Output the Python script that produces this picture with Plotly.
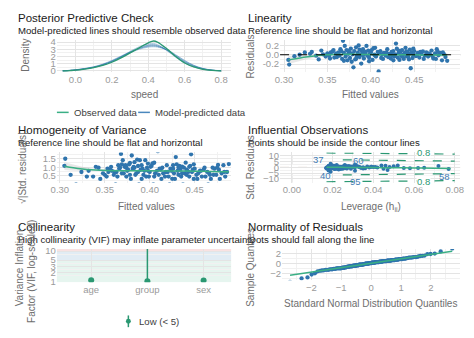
import numpy as np
import plotly.graph_objects as go
from statistics import NormalDist

FONT = "Liberation Sans, Arial, sans-serif"
GREEN = "#3aaf85"
GREEN_DARK = "#2a9872"
BLUE = "#1b6ca8"
RED = "#cd201f"
POINT = "#2f74ad"
TICK = "#9a9a9a"
AXT = "#6e6e6e"
GRID = "#e4e4e4"
MINOR = "#f1f1f1"

W, H = 474, 338

# ---------------- posterior predictive check ----------------
speed_grid = [-0.07, -0.03, 0.0, 0.05, 0.1, 0.15, 0.2, 0.25, 0.3, 0.35,
              0.4, 0.43, 0.45, 0.5, 0.55, 0.6, 0.65, 0.7, 0.75, 0.8]
observed_density = [0.0, 0.05, 0.1, 0.25, 0.45, 0.75, 1.2, 1.8, 2.5, 3.2,
                    3.9, 4.15, 4.0, 3.1, 2.0, 1.1, 0.55, 0.22, 0.07, 0.01]
predicted_density_1 = [0.02, 0.08, 0.15, 0.32, 0.55, 0.9, 1.4, 2.0, 2.6, 3.1,
                       3.45, 3.5, 3.4, 2.9, 2.1, 1.3, 0.7, 0.3, 0.1, 0.02]
predicted_density_2 = [0.01, 0.06, 0.12, 0.28, 0.5, 0.85, 1.3, 1.9, 2.6, 3.2,
                       3.6, 3.65, 3.55, 2.9, 2.0, 1.2, 0.62, 0.27, 0.09, 0.02]
predicted_density_3 = [0.02, 0.07, 0.14, 0.3, 0.52, 0.88, 1.35, 1.95, 2.5, 3.0,
                       3.3, 3.35, 3.3, 2.95, 2.2, 1.4, 0.75, 0.33, 0.11, 0.03]
predicted_density_4 = [0.01, 0.05, 0.1, 0.25, 0.48, 0.8, 1.3, 1.95, 2.7, 3.35,
                       3.75, 3.8, 3.65, 2.85, 1.9, 1.1, 0.55, 0.23, 0.07, 0.01]
predicted_density_5 = [0.02, 0.08, 0.16, 0.34, 0.58, 0.95, 1.45, 2.05, 2.65, 3.1,
                       3.4, 3.45, 3.4, 3.0, 2.25, 1.45, 0.78, 0.35, 0.12, 0.03]
predicted_density_6 = [0.01, 0.06, 0.13, 0.29, 0.5, 0.83, 1.28, 1.9, 2.55, 3.15,
                       3.55, 3.6, 3.5, 2.95, 2.1, 1.25, 0.65, 0.28, 0.09, 0.02]
predicted_densities = [predicted_density_1, predicted_density_2, predicted_density_3,
                       predicted_density_4, predicted_density_5, predicted_density_6]

# ---------------- model diagnostics (one row per observation) ----------------
fitted = [
    0.305, 0.306, 0.312, 0.318, 0.324, 0.330, 0.332, 0.337, 0.340, 0.343,
    0.345, 0.348, 0.350, 0.352, 0.354, 0.356, 0.358, 0.360, 0.361, 0.362,
    0.364, 0.365, 0.366, 0.367, 0.380, 0.369, 0.370, 0.371, 0.372, 0.373,
    0.374, 0.375, 0.376, 0.377, 0.378, 0.379, 0.368, 0.381, 0.382, 0.409,
    0.384, 0.385, 0.386, 0.387, 0.388, 0.389, 0.390, 0.391, 0.392, 0.393,
    0.395, 0.396, 0.397, 0.398, 0.399, 0.400, 0.402, 0.488, 0.404, 0.429,
    0.406, 0.408, 0.383, 0.410, 0.412, 0.413, 0.415, 0.417, 0.418, 0.420,
    0.421, 0.423, 0.424, 0.425, 0.426, 0.427, 0.428, 0.405, 0.430, 0.431,
    0.432, 0.433, 0.434, 0.435, 0.436, 0.437, 0.438, 0.439, 0.440, 0.441,
    0.442, 0.443, 0.444, 0.445, 0.446, 0.447, 0.448, 0.449, 0.450, 0.452,
    0.454, 0.456, 0.458, 0.460, 0.462, 0.464, 0.466, 0.468, 0.470, 0.472,
    0.474, 0.476, 0.478, 0.480, 0.482, 0.484, 0.486, 0.403, 0.475, 0.465,
    0.353, 0.357, 0.363, 0.369, 0.374, 0.378, 0.383, 0.387, 0.391, 0.394,
    0.398, 0.401, 0.405, 0.411, 0.414, 0.419, 0.422, 0.426, 0.432, 0.436,
    0.441, 0.444, 0.449, 0.453, 0.457, 0.461, 0.467, 0.471, 0.477, 0.483,
]
residuals = [
    -0.11, -0.21, -0.03, 0.00, 0.05, 0.02, 0.06, -0.02, -0.10, 0.09,
    0.01, -0.04, 0.03, -0.02, 0.05, 0.07, -0.06, 0.03, -0.05, 0.00,
    -0.02, 0.12, 0.08, -0.09, -0.27, 0.04, 0.19, -0.04, 0.10, -0.12,
    0.02, 0.06, -0.07, 0.13, -0.15, 0.01, 0.30, 0.08, -0.10, -0.36,
    -0.03, 0.04, 0.20, -0.05, 0.00, -0.19, 0.07, 0.12, -0.08, 0.03,
    0.19, -0.02, 0.09, -0.06, 0.02, 0.05, -0.11, -0.13, 0.00, 0.24,
    -0.04, 0.06, 0.16, 0.03, -0.07, 0.01, 0.04, -0.02, 0.05, -0.05,
    0.02, -0.08, 0.06, -0.01, 0.08, -0.04, 0.01, 0.15, 0.13, -0.06,
    0.03, -0.11, 0.07, -0.02, 0.10, 0.00, -0.09, 0.04, 0.15, -0.03,
    0.06, -0.05, 0.02, 0.11, -0.29, 0.05, -0.07, 0.01, 0.08, -0.03,
    0.04, -0.06, 0.02, 0.07, -0.02, 0.05, -0.04, 0.01, 0.09, -0.08,
    0.03, 0.12, -0.01, 0.04, -0.12, 0.02, -0.05, 0.14, -0.09, 0.00,
    -0.08, 0.10, 0.05, -0.13, 0.09, 0.03, -0.09, 0.11, -0.01, 0.06,
    -0.14, 0.10, -0.02, 0.08, -0.09, 0.12, 0.00, -0.12, 0.09, -0.04,
    0.07, -0.10, 0.13, -0.01, 0.06, -0.09, 0.03, -0.03, 0.07, 0.05,
]
leverage = [
    0.045, 0.047, 0.034, 0.031, 0.028, 0.025, 0.024, 0.022, 0.021, 0.020,
    0.020, 0.019, 0.019, 0.018, 0.018, 0.019, 0.018, 0.018, 0.017, 0.018,
    0.017, 0.018, 0.018, 0.017, 0.018, 0.018, 0.019, 0.017, 0.018, 0.018,
    0.019, 0.018, 0.017, 0.020, 0.018, 0.019, 0.019, 0.021, 0.018, 0.019,
    0.018, 0.020, 0.022, 0.019, 0.018, 0.023, 0.020, 0.021, 0.019, 0.024,
    0.026, 0.022, 0.027, 0.023, 0.025, 0.021, 0.029, 0.077, 0.024, 0.031,
    0.022, 0.033, 0.020, 0.026, 0.036, 0.021, 0.024, 0.038, 0.022, 0.027,
    0.040, 0.023, 0.019, 0.042, 0.025, 0.020, 0.028, 0.044, 0.021, 0.026,
    0.048, 0.022, 0.030, 0.019, 0.050, 0.024, 0.035, 0.021, 0.052, 0.027,
    0.023, 0.055, 0.020, 0.032, 0.031, 0.025, 0.058, 0.022, 0.037, 0.020,
    0.026, 0.062, 0.021, 0.029, 0.024, 0.039, 0.065, 0.022, 0.028, 0.020,
    0.033, 0.072, 0.023, 0.041, 0.025, 0.030, 0.021, 0.046, 0.027, 0.035,
    0.019, 0.020, 0.018, 0.021, 0.018, 0.022, 0.019, 0.020, 0.023, 0.018,
    0.024, 0.019, 0.026, 0.020, 0.022, 0.019, 0.025, 0.021, 0.028, 0.020,
    0.023, 0.019, 0.026, 0.022, 0.030, 0.021, 0.024, 0.034, 0.027, 0.039,
]
n_params = 4
labelled_obs = [37, 40, 60, 95, 58]
label_shift_x = [-12, -5, 4, 1, -4]
label_shift_y = [4, -4, 4, -11, -8]

# loess smooths with their standard-error half widths
smooth_fitted = [0.305, 0.315, 0.325, 0.335, 0.345, 0.36, 0.38, 0.40, 0.42, 0.44, 0.46, 0.48, 0.488]
lin_smooth = [-0.11, -0.08, -0.05, -0.025, -0.005, 0.008, 0.012, 0.005, 0.0, 0.0, -0.003, -0.005, -0.006]
lin_band = [0.09, 0.07, 0.05, 0.04, 0.03, 0.025, 0.02, 0.02, 0.02, 0.02, 0.025, 0.035, 0.045]
hom_smooth = [1.06, 0.97, 0.90, 0.85, 0.82, 0.80, 0.79, 0.79, 0.785, 0.775, 0.76, 0.74, 0.73]
hom_band = [0.22, 0.17, 0.12, 0.09, 0.07, 0.06, 0.05, 0.05, 0.05, 0.05, 0.06, 0.07, 0.08]
inf_smooth_lev = [0.017, 0.02, 0.025, 0.03, 0.04, 0.05, 0.06, 0.07, 0.078]
inf_smooth = [0.2, 0.1, 0.0, -0.1, -0.2, -0.3, -0.5, -0.7, -0.9]

# Cook's distance contour lines (outer = 0.8 level, inner = 0.5 level)
cook_label = "0.8"
contour_outer_lev = [0.017, 0.045, 0.08]
contour_outer = [12.6, 12.1, 11.6]
contour_inner_lev = [0.025, 0.05, 0.08]
contour_inner = [6.6, 6.0, 5.5]

# ---------------- collinearity ----------------
terms = ["age", "group", "sex"]
vif = [1.08, 1.01, 1.07]
vif_low = [1.03, 1.0, 1.02]
vif_high = [1.22, 60.0, 1.2]

# ---------------- derived quantities ----------------
res = np.array(residuals)
lev = np.array(leverage)
n = len(res)
sigma = np.sqrt((res ** 2).sum() / (n - n_params))
std_res = res / (sigma * np.sqrt(1 - lev))
sqrt_abs_std = np.sqrt(np.abs(std_res))
nd = NormalDist()
theo_q = np.array([nd.inv_cdf((i + 0.5) / n) for i in range(n)])
sample_q = np.sort(std_res)
q1, q3 = np.quantile(std_res, [0.25, 0.75])
qq_slope = (q3 - q1) / (nd.inv_cdf(0.75) - nd.inv_cdf(0.25))
qq_int = q1 - qq_slope * nd.inv_cdf(0.25)


def fx(px):
    return px / W


def fy(py):
    return 1 - py / H


fig = go.Figure()

# panel 1: densities
for dens in predicted_densities:
    fig.add_trace(go.Scatter(x=speed_grid, y=dens, mode="lines", line=dict(color=BLUE, width=1, shape="spline"),
                             opacity=0.35, xaxis="x", yaxis="y"))
fig.add_trace(go.Scatter(x=speed_grid, y=observed_density, mode="lines",
                         line=dict(color=GREEN_DARK, width=1.3, shape="spline"), xaxis="x", yaxis="y"))

# panel 2: linearity
sl_lo = [m - b for m, b in zip(lin_smooth, lin_band)]
sl_hi = [m + b for m, b in zip(lin_smooth, lin_band)]
fig.add_trace(go.Scatter(x=smooth_fitted + smooth_fitted[::-1], y=sl_hi + sl_lo[::-1], fill="toself",
                         fillcolor="rgba(190,190,190,0.35)", line=dict(width=0), mode="lines",
                         xaxis="x2", yaxis="y2"))
fig.add_trace(go.Scatter(x=fitted, y=residuals, mode="markers", marker=dict(color=POINT, size=4.3),
                         xaxis="x2", yaxis="y2"))
fig.add_trace(go.Scatter(x=smooth_fitted, y=lin_smooth, mode="lines", line=dict(color=GREEN, width=1.5, shape="spline"),
                         xaxis="x2", yaxis="y2"))

# panel 3: homogeneity of variance
sh_lo = [m - b for m, b in zip(hom_smooth, hom_band)]
sh_hi = [m + b for m, b in zip(hom_smooth, hom_band)]
fig.add_trace(go.Scatter(x=smooth_fitted + smooth_fitted[::-1], y=sh_hi + sh_lo[::-1], fill="toself",
                         fillcolor="rgba(190,190,190,0.35)", line=dict(width=0), mode="lines",
                         xaxis="x3", yaxis="y3"))
fig.add_trace(go.Scatter(x=fitted, y=sqrt_abs_std, mode="markers", marker=dict(color=POINT, size=4.3),
                         xaxis="x3", yaxis="y3"))
fig.add_trace(go.Scatter(x=smooth_fitted, y=hom_smooth, mode="lines", line=dict(color=GREEN, width=1.5, shape="spline"),
                         xaxis="x3", yaxis="y3"))

# panel 4: influential observations
for lv, vals in [(contour_outer_lev, contour_outer), (contour_inner_lev, contour_inner)]:
    for sgn in (1, -1):
        fig.add_trace(go.Scatter(x=lv, y=[sgn * v for v in vals], mode="lines",
                                 line=dict(color=GREEN_DARK, width=1.2, dash="dash"), xaxis="x4", yaxis="y4"))
fig.add_trace(go.Scatter(x=leverage, y=std_res, mode="markers", marker=dict(color=POINT, size=4),
                         xaxis="x4", yaxis="y4"))
fig.add_trace(go.Scatter(x=inf_smooth_lev, y=inf_smooth, mode="lines", line=dict(color=GREEN, width=1.5, shape="spline"),
                         xaxis="x4", yaxis="y4"))

# panel 5: collinearity
fig.add_trace(go.Scatter(
    x=terms, y=vif, mode="markers", marker=dict(color=GREEN_DARK, size=6),
    error_y=dict(type="data", symmetric=False,
                 array=[hi - v for hi, v in zip(vif_high, vif)],
                 arrayminus=[v - lo for v, lo in zip(vif, vif_low)],
                 color=GREEN_DARK, thickness=1.5, width=0),
    xaxis="x5", yaxis="y5"))

# panel 6: normality of residuals
fig.add_trace(go.Scatter(x=theo_q, y=sample_q, mode="markers", marker=dict(color=POINT, size=4.3),
                         xaxis="x6", yaxis="y6"))
qx = [theo_q[0], theo_q[-1]]
fig.add_trace(go.Scatter(x=qx, y=[qq_int + qq_slope * v for v in qx], mode="lines",
                         line=dict(color=GREEN, width=1.5), xaxis="x6", yaxis="y6"))


# ---------------- axes ----------------
def axis(dom, anchor, rng, tickvals, ticktext=None, minorvals=None, typ="linear", grid=True):
    d = dict(domain=dom, anchor=anchor, range=rng, tickvals=tickvals, showline=False, zeroline=False,
             ticks="", showgrid=grid, gridcolor=GRID, gridwidth=1, type=typ,
             tickfont=dict(family=FONT, size=9.5, color=TICK))
    if ticktext is not None:
        d["ticktext"] = ticktext
    if minorvals is not None:
        d["minor"] = dict(tickvals=minorvals, showgrid=True, gridcolor=MINOR, gridwidth=1, ticks="")
    return d


colL = [fx(52), fx(230)]
colR = [fx(280), fx(464)]
row1 = [fy(70), fy(37)]
row2 = [fy(183), fy(152)]
row3 = [fy(285), fy(251)]

layout = dict(
    width=W, height=H, margin=dict(l=0, r=0, t=0, b=0), showlegend=False,
    paper_bgcolor="white", plot_bgcolor="white", font=dict(family=FONT),
    xaxis=axis(colL, "y", [-0.102, 0.855], [0, 0.2, 0.4, 0.6, 0.8], ["0.0", "0.2", "0.4", "0.6", "0.8"],
               [-0.1, 0.1, 0.3, 0.5, 0.7]),
    yaxis=axis(row1, "x", [-0.2, 4.27], [0, 1, 2, 3, 4], None, [0.5, 1.5, 2.5, 3.5]),
    xaxis2=axis(colR, "y2", [0.2955, 0.503], [0.30, 0.35, 0.40, 0.45], ["0.30", "0.35", "0.40", "0.45"],
                [0.325, 0.375, 0.425, 0.475]),
    yaxis2=axis(row1, "x2", [-0.378, 0.315], [-0.2, 0.0, 0.2], ["-0.2", "0.0", "0.2"], [-0.3, -0.1, 0.1, 0.3]),
    xaxis3=axis(colL, "y3", [0.2967, 0.4906], [0.30, 0.35, 0.40, 0.45], ["0.30", "0.35", "0.40", "0.45"],
                [0.325, 0.375, 0.425, 0.475]),
    yaxis3=axis(row2, "x3", [0.105, 1.856], [0.5, 1.0, 1.5], ["0.5", "1.0", "1.5"], [0.25, 0.75, 1.25, 1.75]),
    xaxis4=axis(colR, "y4", [-0.0058, 0.0827], [0, 0.02, 0.04, 0.06, 0.08], ["0.00", "0.02", "0.04", "0.06", "0.08"],
                [0.01, 0.03, 0.05, 0.07]),
    yaxis4=axis(row2, "x4", [-13.4, 13.1], [-10, -5, 0, 5, 10], None, [-7.5, -2.5, 2.5, 7.5]),
    xaxis5=axis(colL, "y5", [-0.61, 2.49], [0, 1, 2], terms),
    yaxis5=axis(row3, "x5", [np.log10(0.93), np.log10(11.6)], [1, 2, 3, 5, 10], None,
                [1.5, 2.5, 4, 7.5], typ="log"),
    xaxis6=axis([fx(282), fx(464)], "y6", [-2.98, 2.98], [-2, -1, 0, 1, 2], None, [-2.5, -1.5, -0.5, 0.5, 1.5, 2.5]),
    yaxis6=axis([fy(283), fy(251)], "x6", [-3.4, 3.0], [-2, 0, 2], None, [-3, -1, 1, 3]),
)
fig.update_layout(**layout)
fig.update_xaxes(type="category", selector=dict(anchor="y5"))

# ---------------- shapes ----------------
shapes = []
shapes.append(dict(type="line", xref="x2 domain", yref="y2", x0=0, x1=1, y0=0, y1=0,
                   line=dict(color="black", width=1, dash="dash")))
shapes.append(dict(type="line", xref="x4 domain", yref="y4", x0=0, x1=1, y0=0, y1=0,
                   line=dict(color="#d9c2b4", width=1, dash="dash"), layer="below"))
shapes.append(dict(type="line", xref="x4", yref="y4 domain", x0=0, x1=0, y0=0, y1=1,
                   line=dict(color="#cfcfcf", width=1, dash="dash"), layer="below"))
for y0, y1, col in [(0.93, 5, GREEN), (5, 10, BLUE), (10, 11.6, RED)]:
    shapes.append(dict(type="rect", xref="x5 domain", yref="y5", x0=0, x1=1, y0=y0, y1=y1,
                       fillcolor=col, opacity=0.13, line=dict(width=0), layer="below"))
# legend glyphs
shapes.append(dict(type="line", xref="paper", yref="paper", x0=fx(52), x1=fx(64), y0=fy(111), y1=fy(111),
                   line=dict(color=GREEN, width=1.5)))
shapes.append(dict(type="line", xref="paper", yref="paper", x0=fx(135), x1=fx(147), y0=fy(111), y1=fy(111),
                   line=dict(color="#4a87bd", width=1.5)))
shapes.append(dict(type="line", xref="paper", yref="paper", x0=fx(125), x1=fx(125), y0=fy(319), y1=fy(331),
                   line=dict(color=GREEN_DARK, width=1.5)))
shapes.append(dict(type="circle", xref="paper", yref="paper", x0=fx(122.5), x1=fx(127.5), y0=fy(327.5), y1=fy(322.5),
                   fillcolor=GREEN_DARK, line=dict(width=0)))
fig.update_layout(shapes=shapes)

# ---------------- texts ----------------
ann = []


def text(px, py, s, size, color="#1a1a1a", xanchor="left", angle=0):
    ann.append(dict(x=fx(px), y=fy(py), xref="paper", yref="paper", text=s, showarrow=False,
                    xanchor=xanchor, yanchor="middle", textangle=angle,
                    font=dict(family=FONT, size=size, color=color)))


TS, SS, AS = 11.5, 9.6, 10
text(10, 14.5, "Posterior Predictive Check", TS)
text(10, 27.5, "Model-predicted lines should resemble observed data", SS)
text(245, 14.5, "Linearity", TS)
text(245, 27.5, "Reference line should be flat and horizontal", SS)
text(10, 129, "Homogeneity of Variance", TS)
text(10, 141.5, "Reference line should be flat and horizontal", SS)
text(245, 129, "Influential Observations", TS)
text(245, 141.5, "Points should be inside the contour lines", SS)
text(10, 228, "Collinearity", TS)
text(10, 241, "High collinearity (VIF) may inflate parameter uncertainty", SS)
text(245, 228, "Normality of Residuals", TS)
text(246, 241, "Dots should fall along the line", SS)

# axis titles
text(141, 92.5, "speed", AS, AXT, "center")
text(372, 92.5, "Fitted values", AS, AXT, "center")
text(144, 207.5, "Fitted values", AS, AXT, "center")
text(373, 207.5, "Leverage (h<sub>ii</sub>)", AS, AXT, "center")
text(372, 307, "Standard Normal Distribution Quantiles", AS, AXT, "center")
text(20.5, 53, "Density", AS, AXT, "center", -90)
text(249.5, 53.5, "Residuals", AS, AXT, "center", -90)
text(16, 168, "\u221a|Std. residuals|", AS, AXT, "center", -90)
text(249.5, 167.5, "Std. Residuals", AS, AXT, "center", -90)
text(14, 270, "Variance Inflation", AS, AXT, "center", -90)
text(26, 274, "Factor (VIF, log-scaled)", AS, AXT, "center", -90)
text(249.5, 270, "Sample Quantiles", AS, AXT, "center", -90)

# legends
text(67, 111, "Observed data", SS, "#3d3d3d")
text(150, 111, "Model-predicted data", SS, "#3d3d3d")
text(134, 325, "Low (< 5)", SS, "#3d3d3d")

# observation labels for influential points
for obs, dx, dy in zip(labelled_obs, label_shift_x, label_shift_y):
    i = obs - 1
    ann.append(dict(x=leverage[i], y=float(std_res[i]), xref="x4", yref="y4", text=str(obs), showarrow=False,
                    xshift=dx, yshift=dy, font=dict(family=FONT, size=9.5, color="#3f7bb3")))
# contour labels on the outer lines
for sgn, yy in ((1, 13.0), (-1, -12.2)):
    ann.append(dict(x=0.0645, y=yy, xref="x4", yref="y4", text=cook_label, showarrow=False,
                    bgcolor="white", borderpad=0,
                    font=dict(family=FONT, size=9.5, color=GREEN_DARK)))

fig.update_layout(annotations=ann)
fig.write_html("out.html")
